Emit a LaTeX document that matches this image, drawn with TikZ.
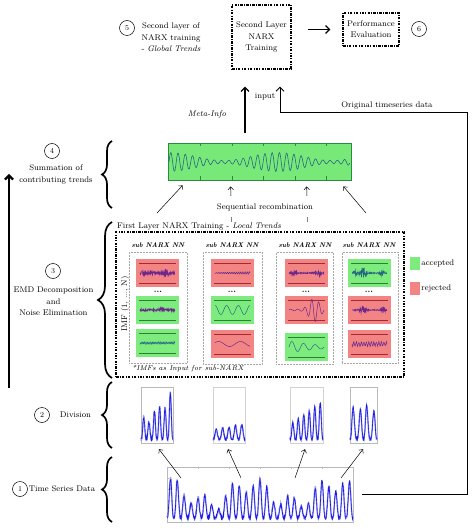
\documentclass[tikz,border=0pt]{standalone}
\usetikzlibrary{arrows.meta,decorations.pathreplacing,calc}
\definecolor{gfill}{RGB}{125,235,125}
\definecolor{rfill}{RGB}{242,132,132}
\definecolor{gline}{RGB}{40,130,50}
\definecolor{rline}{RGB}{165,40,55}
\definecolor{wpur}{RGB}{110,40,140}
\definecolor{wteal}{RGB}{40,105,130}
\definecolor{sumg}{RGB}{120,232,120}
\definecolor{sumline}{RGB}{40,140,60}
\definecolor{tsblue}{RGB}{25,25,225}
\newcommand\imfpanel[6]{%
  \fill[#3] (#1,#2) rectangle ++(43,28);
  \draw[#4,line width=0.9pt] (#1+3,#2+4) -- ++(37,0) (#1+3,#2+24) -- ++(37,0);
  \draw[#5,line width=0.5pt] plot[domain=0:1,samples=160] ({#1+4+35*\x},{#2+14+#6});
}
\newcommand\tsplot[7]{%
  \draw[tsblue!45,line width=1.4pt,line join=round] plot[domain=0:1,samples=#7] ({#1+#3*\x},{#2-1.5-(#5)*abs(sin(\x*#4*180))^3-#6*rnd});
  \draw[tsblue,line width=0.6pt] plot[domain=0:1,samples=#7] ({#1+#3*\x},{#2-1.5-(#5)*abs(sin(\x*#4*180))^3-#6*rnd});
}
\begin{document}
\begin{tikzpicture}[x=1pt,y=-1pt,
  every node/.style={font=\fontsize{8.2}{11.3}\selectfont, inner sep=1pt},
  numc/.style={draw, circle, line width=0.5pt, minimum size=15pt, inner sep=0pt, font=\fontsize{7.5}{9}\selectfont},
  ddbox/.style={draw, line width=1.1pt, dash pattern=on 2.5pt off 1.3pt on 0.8pt off 1.3pt, inner sep=0pt},
  colbox/.style={draw=gray!70, line width=0.5pt, densely dotted, inner sep=0pt},
  chartbox/.style={draw=gray!55, line width=0.4pt, inner sep=0pt},
  bigarr/.style={line width=1.3pt, -{Straight Barb[length=4pt,width=8pt]}},
  thinarr/.style={line width=0.5pt, -{Straight Barb[length=3pt,width=5.5pt]}},
  brc/.style={decorate, decoration={brace, amplitude=#1, aspect=0.5}, line width=1.7pt},
  hdr/.style={font=\fontsize{6.8}{8}\selectfont\bfseries\itshape},
  dots/.style={font=\fontsize{8}{8}\selectfont\bfseries},
]
\pgfmathsetseed{7}
\useasboundingbox (0,0) rectangle (474,529);

% ---- top row
\node[numc] (n5) at (127,28) {5};
\node[align=center] (t5) at (171,37.5) {Second layer of\\NARX training\\- \textit{Global Trends}};
\node[ddbox, minimum width=59pt, minimum height=64pt, align=center] (snd) at (261.5,37) {Second Layer\\NARX\\Training};
\node[ddbox, minimum width=56pt, minimum height=33pt, align=center] (perf) at (371,29.5) {Performance\\Evaluation};
\node[numc] (n6) at (419,29) {6};
\draw[bigarr, shorten <=16pt, shorten >=12pt] (snd.east |- perf.west) -- (perf.west);

% ---- inputs to second layer
\coordinate (mi) at (245,133);
\draw[bigarr, shorten >=17pt] (mi) -- (mi |- snd.south);
\node (inp) at (265,97) {input};
\node (meta) at (207,114) {\textit{Meta-Info}};
\node (orig) at (387,105) {Original timeseries data};

% ---- summation box
\node[draw=sumline, fill=sumg, line width=0.8pt, minimum width=183pt, minimum height=37pt, inner sep=0pt] (sum) at (259.5,161.5) {};
\foreach \t in {200,232,263,295,326}{
  \draw[sumline, line width=0.6pt] (\t,180) -- (\t,176.5) (\t,143) -- (\t,146.5);
}
\draw[wteal, line width=0.6pt] plot[domain=0:1, samples=450] ({169+181*\x},{162-(5.5+4*cos(\x*600))*sin(\x*25*360)});

\node[numc] (n4) at (52,151) {4};
\node[align=center] (t4) at (56,174.5) {Summation of\\contributing trends};
\draw[brc=10pt] (112,208) -- (112,141);

% ---- sequential recombination
\node (seq) at (265,207) {Sequential recombination};
\coordinate (r1) at (157,213);
\coordinate (r2) at (231,196);
\coordinate (r3) at (307,196);
\coordinate (r4) at (366,213);
\draw[thinarr] (r1) -- ($(sum.south west)+(15,5)$);
\draw[thinarr] (r2) -- ($(sum.south west)+(63,6)$);
\draw[thinarr] (r3) -- ($(sum.south west)+(139,6)$);
\draw[thinarr] (r4) -- ($(sum.south east)+(-8,6)$);
\draw[gray, line width=0.5pt] (231,217) -- (231,222) (307,217) -- (307,222);

% ---- first layer
\node[anchor=west] (flt) at (116,226) {First Layer NARX Training - \textit{Local Trends}};
\node[ddbox, minimum width=288pt, minimum height=145pt] (fl) at (260,304.5) {};
\node[rotate=90] (imf) at (125,304) {IMF (1, ..., N)};
\node[numc] (n3) at (53,271) {3};
\node[align=center] (t3) at (53.5,301.5) {EMD Decomposition\\and\\Noise Elimination};
\draw[brc=14pt] (112,378) -- (112,222);

\node[colbox, minimum width=58pt, minimum height=111pt] (col1) at (158,307.5) {};
\node[colbox, minimum width=59pt, minimum height=112pt] (col2) at (232.5,308) {};
\node[colbox, minimum width=57pt, minimum height=112pt] (col3) at (304.5,308) {};
\node[colbox, minimum width=56pt, minimum height=111pt] (col4) at (370,307.5) {};
\node[hdr] (h1) at (158,245) {sub NARX NN};
\node[hdr] (h2) at (232,245) {sub NARX NN};
\node[hdr] (h3) at (305,245) {sub NARX NN};
\node[hdr] (h4) at (369,245) {sub NARX NN};
\node[dots] at (158,292) {...};
\node[dots] at (232,292) {...};
\node[dots] at (306,292) {...};
\node[dots] at (369,292) {...};

% column 1
\imfpanel{136}{259}{rfill}{rline}{wpur}{(rnd-0.5)*3*(1+2.2*exp(-250*(\x-0.75)*(\x-0.75))+1.5*exp(-300*(\x-0.1)*(\x-0.1)))}
\imfpanel{136}{296}{gfill}{gline}{wpur}{(rnd-0.5)*2.4*(1+1.6*exp(-300*(\x-0.62)*(\x-0.62)))}
\imfpanel{136}{329}{gfill}{gline}{wteal}{0.9*sin(\x*22*360)+(rnd-0.5)*0.8}
% column 2
\imfpanel{211}{259}{rfill}{rline}{wpur}{0.9*sin(\x*16*360)*(0.5+\x)}
\imfpanel{211}{296}{gfill}{gline}{wteal}{-4.5*cos(\x*3*360)}
\imfpanel{211}{330}{rfill}{rline}{wpur}{-2.5*sin(\x*1.6*360+30)}
% column 3
\imfpanel{285}{259}{rfill}{rline}{wpur}{(rnd-0.5)*5*(exp(-200*(\x-0.15)*(\x-0.15))+exp(-200*(\x-0.85)*(\x-0.85))+0.3)}
\imfpanel{285}{296}{rfill}{rline}{wpur}{-(0.8+11*exp(-25*(\x-0.72)*(\x-0.72)))*sin(\x*5*360)}
\imfpanel{285}{333}{gfill}{gline}{wteal}{-6*exp(-1.2*\x)*sin(\x*3*360)}
% column 4
\imfpanel{348}{259}{gfill}{gline}{wteal}{(rnd-0.5)*13*(exp(-150*(\x-0.32)*(\x-0.32))+0.35*exp(-250*(\x-0.1)*(\x-0.1))+0.45*exp(-250*(\x-0.85)*(\x-0.85))+0.1)}
\imfpanel{348}{296}{rfill}{rline}{wpur}{(rnd-0.5)*7*(exp(-100*(\x-0.3)*(\x-0.3))+0.8*exp(-250*(\x-0.9)*(\x-0.9))+0.15)}
\imfpanel{348}{330}{rfill}{rline}{wpur}{2*sin(\x*14*360)+(rnd-0.5)*1.4}

\node[anchor=west, font=\fontsize{7}{8}\selectfont\itshape] (note) at (131,369) {*IMFs as Input for sub-NARX};

% legend
\node[fill=gfill, minimum width=10pt, minimum height=13pt, inner sep=0pt] (lg) at (414.5,263.5) {};
\node[anchor=west] (lgt) at ([xshift=0.5pt]lg.east) {accepted};
\node[fill=rfill, minimum width=10pt, minimum height=13pt, inner sep=0pt] (lr) at (414.5,288) {};
\node[anchor=west] (lrt) at ([xshift=0.5pt]lr.east) {rejected};

% ---- division
\node[numc] (n2) at (42,415) {2};
\node (t2) at (75.5,415) {Division};
\draw[brc=10pt] (112,448) -- (112,382);
\node[chartbox, minimum width=32pt, minimum height=56pt] (c1) at (157,415) {};
\node[chartbox, draw=gray!35, minimum width=32pt, minimum height=56pt] (c2) at (229,415) {};
\node[chartbox, draw=gray!35, minimum width=33pt, minimum height=56pt] (c3) at (306.5,415) {};
\node[chartbox, minimum width=27pt, minimum height=56pt] (c4) at (363.5,415) {};
\tsplot{141}{442}{32}{6}{14+28*\x+6*sin(\x*900)}{3}{160}
\tsplot{213}{442}{32}{5}{9+6*\x}{2.5}{140}
\tsplot{290}{442}{33}{6}{14+24*\x}{3}{160}
\tsplot{350}{442}{27}{4}{30+12*cos(\x*700)}{3}{130}

% ---- time series
\node[numc] (n1) at (20,489) {1};
\node (t1) at (62,489) {Time Series Data};
\draw[brc=10pt] (112,522) -- (112,457);
\node[chartbox, minimum width=186pt, minimum height=55pt] (ts) at (260,494.5) {};
\foreach \t in {198,229,260,291,322}{\draw[gray!55, line width=0.4pt] (\t,467) -- (\t,469);}
\foreach \t in {478,489,500,511}{\draw[gray!55, line width=0.4pt] (167,\t) -- (169,\t);}
\tsplot{167}{521}{186}{27}{24+10*sin(\x*800+90)+8*sin(\x*2300)}{3.5}{700}

\coordinate (a1) at (181,478);
\coordinate (a2) at (241,478);
\coordinate (a3) at (295,478);
\coordinate (a4) at (341,478);
\draw[thinarr] (a1) -- ($(c1.south)+(2,6)$);
\draw[thinarr] (a2) -- ($(c2.south)+(-1,6)$);
\draw[thinarr] (a3) -- ($(c3.south)+(-1.5,6)$);
\draw[thinarr] (a4) -- ($(c4.south)+(-0.5,6)$);

% original data feedback
\coordinate (od) at (280,113);
\draw[line width=1pt, -{Straight Barb[length=4pt,width=8pt]}, shorten >=17pt] ([xshift=9pt]ts.east) -| (467,113) -- (od) -- (od |- snd.south);

% main progress arrow
\coordinate (pb) at (9,388);
\coordinate (pt) at (9,174);
\draw[line width=2.2pt, -{Straight Barb[length=4pt,width=8pt]}] (pb) -- (pt);
\end{tikzpicture}
\end{document}
